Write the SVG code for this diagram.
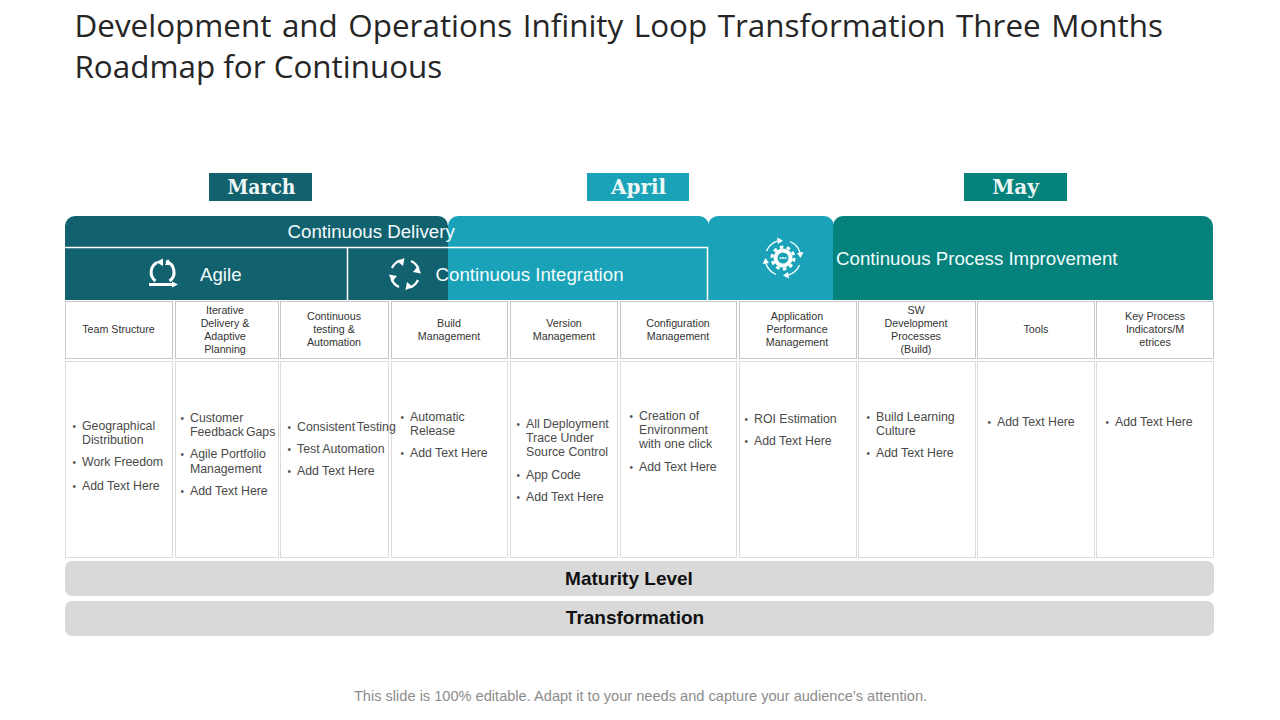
<svg xmlns="http://www.w3.org/2000/svg" width="1280" height="720" viewBox="0 0 1280 720">
<defs>
<g id="ci-arc"><path d="M392 268A14.500 14.500 0 0 1 400 260.500" fill="none" stroke="#fff" stroke-width="2.300"/><path d="M404.500 258L397 261L403 266Z" fill="#fff"/></g>
<g id="gear-arc"><path d="M766.500 251A18 18 0 0 1 778 240.800" fill="none" stroke="#fff" stroke-width="1.300"/><path d="M783 240.500L777 237.500L778 244Z" fill="#fff"/></g>
</defs>
<style>
text{font-family:"Liberation Sans",Arial,sans-serif}
.title{font-family:"Open Sans","Noto Sans",sans-serif;font-size:31.400px;fill:#262626}
.m{font-family:"DejaVu Serif","Liberation Serif",serif;font-size:20px;font-weight:bold;fill:#eef7f6;text-anchor:middle}
.h{font-size:18.700px;fill:#f2fbfb}
.c{fill:#fff;stroke:#c8c8c8;stroke-width:1}
.d{fill:#fff;stroke:#dcdcdc;stroke-width:1}
.t{font-size:10.700px;fill:#333;text-anchor:middle}
.b{font-size:12.300px;fill:#4a4a4a}
.u{font-size:10px;fill:#555}
.bar{fill:#d9d9d9}
.bl{font-size:19px;font-weight:bold;fill:#111;text-anchor:middle}
</style>
<text class="title" x="74.500" y="37" word-spacing="2.400">Development and Operations Infinity Loop Transformation Three Months</text>
<text class="title" x="74.500" y="78">Roadmap for Continuous</text>
<g id="month-march"><rect x="209" y="173" width="103" height="28" fill="#12616f"/><text class="m" x="261.500" y="194" textLength="68" lengthAdjust="spacingAndGlyphs">March</text></g>
<g id="month-april"><rect x="587" y="173" width="102" height="28" fill="#1aa3b8"/><text class="m" x="638.500" y="194">April</text></g>
<g id="month-may"><rect x="964" y="173" width="103" height="28" fill="#04827b"/><text class="m" x="1015.500" y="194">May</text></g>

<g id="band-april"><path d="M448 300V226a10 10 0 0 1 10-10H699a10 10 0 0 1 10 10V300Z" fill="#1aa3b8"/>
<path d="M708 226a10 10 0 0 1 10-10H824a10 10 0 0 1 10 10V300H708Z" fill="#1aa3b8"/>
<path d="M448 247.500H707.500V300" fill="none" stroke="#fff" stroke-width="1.500"/></g>
<g id="band-march"><path d="M65 300V226a10 10 0 0 1 10-10H438a10 10 0 0 1 10 10V300Z" fill="#12616f"/>
<path d="M65 247.500H448M347.500 248V300" fill="none" stroke="#fff" stroke-width="1.500"/>
<text class="h" x="287.500" y="238">Continuous Delivery</text>
<text class="h" x="200" y="281">Agile</text>
<text class="h" x="435.500" y="281">Continuous Integration</text>
<g id="icon-agile"><path d="M155.500 281A11 11 0 0 1 157 262.500M166 261.500A11 11 0 0 1 169.500 281" fill="none" stroke="#fff" stroke-width="3"/><path d="M156 262L163 258.500L163 266ZM172 265L165 265L168 259Z" fill="#fff"/><rect x="149" y="283" width="24" height="3" fill="#fff"/><path d="M172 281.500L178 284.500L172 287.500Z" fill="#fff"/></g>
<g id="icon-ci"><use href="#ci-arc"/><use href="#ci-arc" transform="rotate(90 405 274)"/><use href="#ci-arc" transform="rotate(180 405 274)"/><use href="#ci-arc" transform="rotate(270 405 274)"/></g></g>
<g id="band-may"><path d="M833 300V226a10 10 0 0 1 10-10H1203a10 10 0 0 1 10 10V300Z" fill="#04827b"/>
<text class="h" x="836" y="265">Continuous Process Improvement</text></g>
<g id="icon-gear"><use href="#gear-arc"/><use href="#gear-arc" transform="rotate(90 783 258)"/><use href="#gear-arc" transform="rotate(180 783 258)"/><use href="#gear-arc" transform="rotate(270 783 258)"/>
<circle cx="783" cy="258" r="11" fill="none" stroke="#fff" stroke-width="3" stroke-dasharray="3.500 3.410"/><circle cx="783" cy="258" r="9.500" fill="#fff"/><circle cx="783" cy="258" r="5.500" fill="#1aa3b8"/><circle cx="780.500" cy="258" r="1" fill="#fff"/><circle cx="783" cy="258" r="1" fill="#fff"/><circle cx="785.500" cy="258" r="1" fill="#fff"/></g>

<g id="col-1"><rect class="c" x="65.500" y="301.500" width="107" height="57"/><text class="t" x="118.500" y="333">Team Structure</text><rect class="d" x="65.500" y="361.500" width="107" height="196"/>
<text class="u" x="72.500" y="430">•</text><text class="b" x="82" y="430">Geographical</text><text class="b" x="82" y="444">Distribution</text><text class="u" x="72.500" y="466">•</text><text class="b" x="82" y="466">Work Freedom</text><text class="u" x="72.500" y="490">•</text><text class="b" x="82" y="490">Add Text Here</text></g>
<g id="col-2"><rect class="c" x="175.500" y="301.500" width="103" height="57"/><text class="t" x="225" y="314">Iterative</text><text class="t" x="225" y="327">Delivery &amp;</text><text class="t" x="225" y="340">Adaptive</text><text class="t" x="225" y="353">Planning</text><rect class="d" x="175.500" y="361.500" width="103" height="196"/>
<text class="u" x="180.500" y="422">•</text><text class="b" x="190" y="422">Customer</text><text class="b" x="190" y="436" word-spacing="-1.500">Feedback Gaps</text><text class="u" x="180.500" y="458">•</text><text class="b" x="190" y="458">Agile Portfolio</text><text class="b" x="190" y="473">Management</text><text class="u" x="180.500" y="495">•</text><text class="b" x="190" y="495">Add Text Here</text></g>
<g id="col-4"><rect class="c" x="391.500" y="301.500" width="116" height="57"/><text class="t" x="449" y="327">Build</text><text class="t" x="449" y="340">Management</text><rect class="d" x="391.500" y="361.500" width="116" height="196"/>
<text class="u" x="400.500" y="421">•</text><text class="b" x="410" y="421">Automatic</text><text class="b" x="410" y="435">Release</text><text class="u" x="400.500" y="457">•</text><text class="b" x="410" y="457">Add Text Here</text></g>
<g id="col-3"><rect class="c" x="280.500" y="301.500" width="108" height="57"/><text class="t" x="334" y="320">Continuous</text><text class="t" x="334" y="333">testing &amp;</text><text class="t" x="334" y="346">Automation</text><rect class="d" x="280.500" y="361.500" width="108" height="196"/>
<text class="u" x="287.500" y="431">•</text><text class="b" x="297" y="431" word-spacing="-1.500">Consistent Testing</text><text class="u" x="287.500" y="453">•</text><text class="b" x="297" y="453">Test Automation</text><text class="u" x="287.500" y="475">•</text><text class="b" x="297" y="475">Add Text Here</text></g>
<g id="col-5"><rect class="c" x="510.500" y="301.500" width="107" height="57"/><text class="t" x="564" y="327">Version</text><text class="t" x="564" y="340">Management</text><rect class="d" x="510.500" y="361.500" width="107" height="196"/>
<text class="u" x="516.500" y="428">•</text><text class="b" x="526" y="428">All Deployment</text><text class="b" x="526" y="442">Trace Under</text><text class="b" x="526" y="456">Source Control</text><text class="u" x="516.500" y="479">•</text><text class="b" x="526" y="479">App Code</text><text class="u" x="516.500" y="501">•</text><text class="b" x="526" y="501">Add Text Here</text></g>
<g id="col-6"><rect class="c" x="620.500" y="301.500" width="116" height="57"/><text class="t" x="678" y="327">Configuration</text><text class="t" x="678" y="340">Management</text><rect class="d" x="620.500" y="361.500" width="116" height="196"/>
<text class="u" x="629.500" y="420">•</text><text class="b" x="639" y="420">Creation of</text><text class="b" x="639" y="434">Environment</text><text class="b" x="639" y="448">with one click</text><text class="u" x="629.500" y="471">•</text><text class="b" x="639" y="471">Add Text Here</text></g>
<g id="col-7"><rect class="c" x="739.500" y="301.500" width="117" height="57"/><text class="t" x="797" y="320">Application</text><text class="t" x="797" y="333">Performance</text><text class="t" x="797" y="346">Management</text><rect class="d" x="739.500" y="361.500" width="117" height="196"/>
<text class="u" x="744.500" y="423">•</text><text class="b" x="754" y="423">ROI Estimation</text><text class="u" x="744.500" y="445">•</text><text class="b" x="754" y="445">Add Text Here</text></g>
<g id="col-8"><rect class="c" x="858.500" y="301.500" width="117" height="57"/><text class="t" x="916" y="314">SW</text><text class="t" x="916" y="327">Development</text><text class="t" x="916" y="340">Processes</text><text class="t" x="916" y="353">(Build)</text><rect class="d" x="858.500" y="361.500" width="117" height="196"/>
<text class="u" x="866.500" y="421">•</text><text class="b" x="876" y="421">Build Learning</text><text class="b" x="876" y="435">Culture</text><text class="u" x="866.500" y="457">•</text><text class="b" x="876" y="457">Add Text Here</text></g>
<g id="col-9"><rect class="c" x="977.500" y="301.500" width="117" height="57"/><text class="t" x="1036" y="333">Tools</text><rect class="d" x="977.500" y="361.500" width="117" height="196"/>
<text class="u" x="987.500" y="426">•</text><text class="b" x="997" y="426">Add Text Here</text></g>
<g id="col-10"><rect class="c" x="1096.500" y="301.500" width="117" height="57"/><text class="t" x="1155" y="320">Key Process</text><text class="t" x="1155" y="333">Indicators/M</text><text class="t" x="1155" y="346">etrices</text><rect class="d" x="1096.500" y="361.500" width="117" height="196"/>
<text class="u" x="1105.500" y="426">•</text><text class="b" x="1115" y="426">Add Text Here</text></g>

<g id="bar-maturity"><rect class="bar" x="65" y="561" width="1149" height="35" rx="7"/><text class="bl" x="629" y="585">Maturity Level</text></g>
<g id="bar-transformation"><rect class="bar" x="65" y="601" width="1149" height="35" rx="7"/><text class="bl" x="635" y="624">Transformation</text></g>
<text x="640.500" y="701" text-anchor="middle" font-size="14.600" fill="#8c8c8c">This slide is 100% editable. Adapt it to your needs and capture your audience's attention.</text>
</svg>
